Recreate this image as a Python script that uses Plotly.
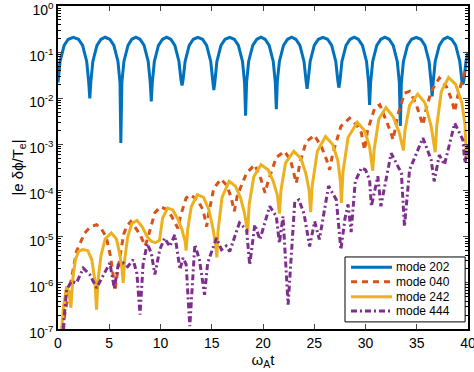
import numpy as np
import plotly.graph_objects as go

# ---- data ----
t_202 = [0, 0.2, 0.6, 1.0, 1.5, 2.0, 2.4, 2.8, 3.0, 3.1,
         3.2, 3.4, 3.8, 4.2, 4.6, 5.05, 5.45, 5.85, 6.05, 6.13,
         6.23, 6.43, 6.83, 7.2, 7.6, 8.0, 8.4, 8.8, 9.0, 9.1,
         9.2, 9.4, 9.8, 10.2, 10.6, 11.0, 11.4, 11.8, 12.0, 12.1,
         12.2, 12.4, 12.8, 13.2, 13.65, 14.1, 14.5, 14.9, 15.1, 15.2,
         15.3, 15.5, 15.9, 16.3, 16.75, 17.2, 17.6, 18.0, 18.2, 18.3,
         18.4, 18.6, 19.0, 19.4, 19.8, 20.2, 20.6, 21.0, 21.2, 21.3,
         21.4, 21.6, 22.0, 22.4, 22.8, 23.2, 23.6, 24.0, 24.2, 24.3,
         24.4, 24.6, 25.0, 25.4, 25.85, 26.3, 26.7, 27.1, 27.3, 27.4,
         27.5, 27.7, 28.1, 28.5, 28.9, 29.3, 29.7, 30.1, 30.3, 30.4,
         30.5, 30.7, 31.1, 31.5, 31.9, 32.3, 32.7, 33.1, 33.3, 33.4,
         33.5, 33.7, 34.1, 34.5, 34.95, 35.4, 35.8, 36.2, 36.4, 36.5,
         36.6, 36.8, 37.2, 37.6, 38.0, 38.4, 38.8, 39.2, 39.4, 39.5,
         39.6, 39.8, 40.0]
amp_202 = [0.022, 0.063, 0.14, 0.19, 0.21, 0.19, 0.14, 0.063, 0.022, 0.010,
           0.022, 0.063, 0.14, 0.19, 0.21, 0.19, 0.14, 0.063, 0.022, 0.00107,
           0.022, 0.063, 0.14, 0.19, 0.21, 0.19, 0.14, 0.063, 0.022, 0.0085,
           0.022, 0.063, 0.14, 0.19, 0.21, 0.19, 0.14, 0.063, 0.025, 0.019,
           0.025, 0.063, 0.14, 0.19, 0.21, 0.19, 0.14, 0.063, 0.024, 0.015,
           0.022, 0.063, 0.14, 0.19, 0.21, 0.19, 0.14, 0.063, 0.022, 0.0042,
           0.022, 0.063, 0.14, 0.19, 0.21, 0.19, 0.14, 0.063, 0.022, 0.0058,
           0.024, 0.063, 0.14, 0.19, 0.21, 0.19, 0.14, 0.063, 0.024, 0.016,
           0.024, 0.063, 0.14, 0.19, 0.21, 0.19, 0.14, 0.063, 0.024, 0.017,
           0.023, 0.063, 0.14, 0.19, 0.21, 0.19, 0.14, 0.063, 0.022, 0.0072,
           0.022, 0.063, 0.14, 0.19, 0.21, 0.19, 0.14, 0.063, 0.022, 0.0025,
           0.022, 0.063, 0.14, 0.19, 0.21, 0.19, 0.14, 0.063, 0.022, 0.011,
           0.022, 0.063, 0.14, 0.19, 0.21, 0.19, 0.14, 0.063, 0.024, 0.020,
           0.024, 0.063, 0.10]

t_040 = [0.55, 0.67, 1.0, 1.32, 1.8, 2.6, 3.2, 3.76, 4.2, 4.7, 5.1, 5.4, 5.55, 5.75,
         6.0, 6.4, 6.7, 7.1, 7.6, 8.0, 8.3, 8.5, 8.8, 9.45, 10.0, 10.5, 11.07, 11.5,
         11.7, 11.95, 12.5, 12.9, 13.6, 14.15, 14.5, 14.7, 15.2, 15.9, 16.5, 16.9,
         17.2, 17.5, 18.4, 19.2, 19.8, 20.2, 20.5, 21.3, 22.1, 22.7, 23.25, 23.6,
         24.2, 25.0, 25.7, 26.2, 26.5, 26.8, 27.6, 28.45, 29.2, 29.6, 29.9, 30.2,
         30.9, 31.4, 32.0, 32.4, 32.7, 33.1, 33.8, 34.3, 34.9, 35.3, 35.6, 35.9,
         36.4, 37.2, 37.9, 38.4, 38.7, 39.0, 39.7, 40.0]
log_040 = [-7.0, -6.65, -6.29, -5.93, -5.32, -4.92, -4.78, -4.74, -4.82, -5.0, -5.4, -5.86, -6.18, -5.85,
           -5.5, -4.95, -4.78, -4.67, -4.82, -4.95, -5.1, -5.2, -5.0, -4.48, -4.35, -4.4, -4.55, -4.72,
           -4.82, -4.55, -4.16, -4.09, -4.2, -4.42, -4.78, -4.5, -3.95, -3.75, -3.9, -4.16,
           -4.45, -4.1, -3.62, -3.44, -3.75, -4.05, -3.8, -3.28, -3.15, -3.35, -3.84, -3.4,
           -2.95, -2.8, -3.05, -3.33, -3.55, -3.2, -2.61, -2.43, -2.6, -2.75, -3.12, -2.7,
           -2.21, -2.14, -2.47, -2.7, -2.9, -2.4, -1.89, -1.85, -2.1, -2.36, -2.58, -2.25,
           -1.85, -1.56, -1.75, -2.03, -2.29, -1.95, -1.4, -1.3]

t_242 = [0.35, 0.55, 0.84, 1.05, 1.26, 1.45, 1.7, 2.0, 2.4, 2.9, 3.3, 3.6, 3.76, 3.9,
         4.2, 4.6, 5.2, 5.7, 6.0, 6.25, 6.36, 6.5, 6.8, 7.2, 7.7, 8.2, 8.7, 9.1, 9.5,
         9.9, 10.2, 10.7, 11.2, 11.7, 12.1, 12.4, 12.5, 12.65, 13.0, 13.6, 14.2, 14.7,
         15.1, 15.4, 15.5, 15.6, 16.0, 16.7, 17.3, 17.8, 18.2, 18.5, 18.65, 19.1, 19.8,
         20.5, 21.0, 21.4, 21.6, 21.75, 22.2, 23.0, 23.7, 24.2, 24.5, 24.65, 24.8, 25.3,
         26.1, 26.8, 27.3, 27.55, 27.65, 27.8, 28.3, 29.2, 29.9, 30.4, 30.7, 30.85,
         31.3, 32.0, 32.7, 33.3, 33.7, 33.85, 34.3, 35.1, 35.8, 36.4, 36.8, 36.95,
         37.4, 38.1, 38.8, 39.4, 39.7, 39.85, 40.0]
log_242 = [-7.0, -6.5, -6.08, -6.2, -6.54, -5.9, -5.5, -5.32, -5.28, -5.3, -5.5, -5.95, -6.58, -5.95,
           -5.4, -5.05, -4.92, -5.05, -5.35, -5.7, -6.0, -5.5, -5.0, -4.72, -4.65, -4.78, -5.0, -5.1, -5.13,
           -5.08, -4.6, -4.38, -4.42, -4.62, -4.85, -5.1, -5.3, -4.85, -4.35, -4.09, -4.15, -4.4,
           -4.8, -5.2, -5.45, -4.9, -4.15, -3.80, -3.9, -4.15, -4.5, -4.9, -4.3, -3.7, -3.44,
           -3.55, -3.8, -4.1, -4.5, -4.0, -3.4, -3.15, -3.3, -3.65, -4.0, -4.47, -3.9, -3.15,
           -2.83, -3.0, -3.35, -3.8, -4.27, -3.6, -2.85, -2.52, -2.7, -3.05, -3.57, -3.1,
           -2.45, -2.2, -2.4, -2.75, -3.13, -2.7, -2.15, -1.91, -2.1, -2.6, -3.17, -2.6,
           -1.85, -1.55, -1.7, -2.1, -2.55, -3.3, -3.0]

t_444 = [0.5, 0.84, 1.3, 1.8, 2.46, 3.1, 3.76, 4.4, 5.06, 5.5, 5.87, 6.36, 6.8, 7.33, 7.7,
         8.0, 8.3, 8.7, 9.1, 9.45, 9.93, 10.4, 10.9, 11.4, 11.9, 12.2, 12.5, 12.86, 13.35,
         13.8, 14.3, 14.6, 15.46, 15.95, 16.4, 16.75, 17.1, 17.7, 18.4, 18.7, 19.2, 19.7,
         20.65, 21.3, 21.6, 21.95, 22.45, 23.1, 23.5, 24.0, 24.55, 25.04, 25.5, 26.4,
         27.15, 27.6, 28.0, 28.3, 28.6, 29.0, 29.6, 30.0, 30.4, 30.57, 31.2, 31.5, 32.5,
         33.5, 33.8, 34.3, 35.6, 36.4, 36.7, 37.2, 37.7, 38.7, 39.5, 39.7, 40.0]
log_444 = [-7.0, -6.15, -5.97, -6.0, -5.68, -5.82, -6.11, -5.86, -5.57, -6.12, -5.61, -5.57, -5.65, -5.5, -5.8,
           -6.69, -5.6, -5.15, -5.35, -5.82, -5.28, -5.03, -5.21, -4.96, -5.71, -5.46, -5.6, -6.94, -5.17,
           -5.5, -6.26, -5.57, -5.03, -5.28, -5.2, -5.32, -5.1, -4.70, -4.85, -5.61, -4.74, -5.06,
           -4.34, -4.56, -5.14, -4.56, -6.47, -4.24, -4.2, -4.5, -5.21, -4.67, -5.06, -3.9,
           -4.2, -5.28, -4.6, -4.3, -4.9, -3.8, -3.51, -3.55, -3.77, -4.34, -3.69, -4.34, -3.19,
           -3.62, -4.78, -3.55, -2.86, -3.33, -3.80, -3.23, -3.44, -2.54, -2.9, -3.4, -3.0]

series_names = ["mode 202", "mode 040", "mode 242", "mode 444"]
series_colors = ["#0072BD", "#D95319", "#EDB120", "#7E2F8E"]
series_dash = ["solid", "6px,5px", "solid", "6px,3px,2px,3px"]
x_ticks = [0, 5, 10, 15, 20, 25, 30, 35, 40]
y_exponents = [0, -1, -2, -3, -4, -5, -6, -7]
y_tick_text = ["10<sup>%d</sup>" % e for e in y_exponents]
minor_digits = [2, 3, 4, 5, 6, 7, 8, 9]

# ---- figure ----
fig = go.Figure()
series = [(t_202, np.array(amp_202)),
          (t_040, 10.0 ** np.array(log_040)),
          (t_242, 10.0 ** np.array(log_242)),
          (t_444, 10.0 ** np.array(log_444))]
for (tx, ty), name, col, dash in zip(series, series_names, series_colors, series_dash):
    fig.add_trace(go.Scatter(x=tx, y=ty, name=name, mode="lines", showlegend=False,
                             line=dict(color=col, width=3, dash=dash)))

font_family = "Liberation Sans, Arial, Helvetica, sans-serif"
fig.update_layout(
    width=474, height=372,
    margin=dict(l=58, r=6, t=6, b=43, autoexpand=False),
    paper_bgcolor="white", plot_bgcolor="white",
    font=dict(family=font_family, size=13, color="black"),
    showlegend=False,
)

# legend box (drawn in paper coordinates, compact like the reference)
leg_x0, leg_x1, leg_y0, leg_y1 = 0.700, 0.993, 0.022, 0.223
row_y = [0.191, 0.146, 0.100, 0.056]
fig.add_shape(type="rect", xref="paper", yref="paper", x0=leg_x0, x1=leg_x1, y0=leg_y0, y1=leg_y1,
              line=dict(color="black", width=1), fillcolor="white", layer="above")
for name, col, dash, ry in zip(series_names, series_colors, series_dash, row_y):
    fig.add_shape(type="line", xref="paper", yref="paper", x0=0.7146, x1=0.8146, y0=ry, y1=ry,
                  line=dict(color=col, width=3, dash=dash), layer="above")
    fig.add_annotation(xref="paper", yref="paper", x=0.8195, y=ry, text=name, showarrow=False,
                       xanchor="left", yanchor="middle", font=dict(size=12))

fig.update_xaxes(
    range=[0, 40], tickvals=x_ticks, ticks="inside", ticklen=5, tickwidth=1,
    showline=True, linecolor="black", linewidth=1.5, mirror="ticks",
    showgrid=False, zeroline=False, automargin=False, ticklabeloverflow="allow",
    tickfont=dict(size=14),
    title=dict(text="ω<sub>A</sub>t", standoff=2, font=dict(size=15)),
)
minor_vals = [d * 10.0 ** e for e in range(-7, 0) for d in minor_digits]
fig.update_yaxes(
    type="log", range=[-7, 0],
    tickvals=[10.0 ** e for e in y_exponents], ticktext=y_tick_text,
    ticks="inside", ticklen=5, tickwidth=1,
    minor=dict(ticks="inside", ticklen=3, tickcolor="black", tickmode="array",
               tickvals=minor_vals, showgrid=False),
    showline=True, linecolor="black", linewidth=1.5, mirror="ticks",
    showgrid=False, zeroline=False, automargin=False, ticklabeloverflow="allow",
    ticklabelshift=4,
    tickfont=dict(size=14),
    title=dict(text="|e δϕ/T<sub>e</sub>|", standoff=2, font=dict(size=15)),
)

fig.write_html("out.html", config={"displayModeBar": False},
               post_script="document.body.style.margin='0';document.body.style.overflow='hidden';")
